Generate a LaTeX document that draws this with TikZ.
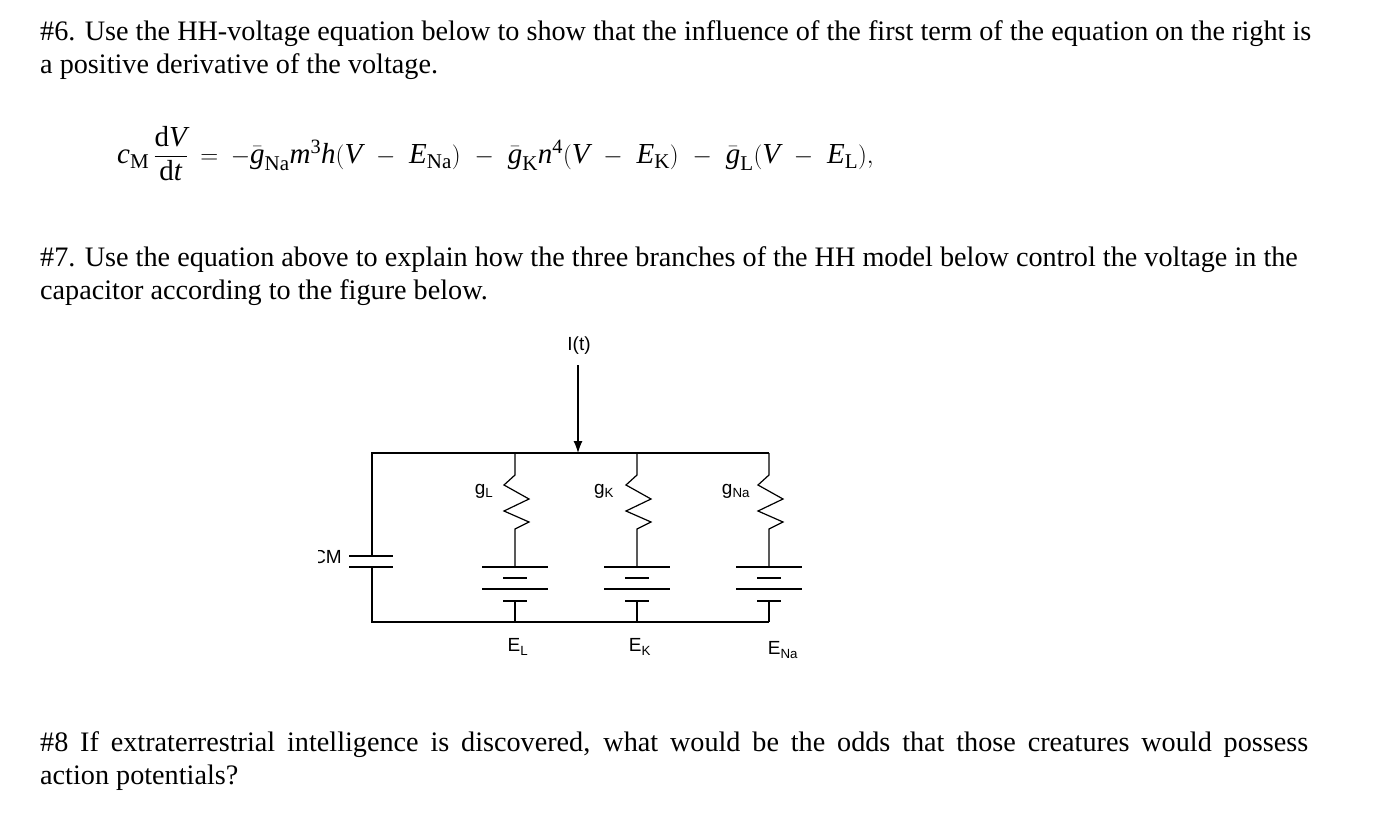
\documentclass[tikz,border=0pt]{standalone}
\usepackage{amsmath}
\usepackage{trimclip}
\usepackage{fontspec}
\setmainfont{Liberation Serif}
\setsansfont{Liberation Sans}
\usetikzlibrary{arrows.meta}
\newcommand{\mi}[1]{\text{\itshape #1}}
\newcommand{\rs}[1]{\text{\fontsize{21}{22}\selectfont\upshape #1}}
\begin{document}
\begin{tikzpicture}[x=1pt,y=-1pt,
  txt/.style={anchor=base west,inner sep=0pt,font=\fontsize{28.2}{32}\selectfont},
  lab/.style={inner sep=0pt,font=\sffamily\fontsize{19}{22}\selectfont},
  wire/.style={line width=1.2pt}]
\useasboundingbox (0,0) rectangle (1374,828);
\node[txt] (t1) at (40,40) {\#6. Use the HH-voltage equation below to show that the influence of the first term of the equation on the right is};
\node[txt] (t2) at (40,73) {a positive derivative of the voltage.};
\node[txt] (eq) at (117,163) {\fontsize{29}{30}\selectfont\medmuskip=10mu plus 2mu\thickmuskip=9mu$\mi{c}_{\rs{M}}\,\dfrac{\text{d}\mi{V}}{\text{d}\mi{t}}=-\bar{\mi{g}}_{\rs{Na}}\mi{m}^{\text{3}}\mi{h}(\mi{V}-\mi{E}_{\rs{Na}})-\bar{\mi{g}}_{\rs{K}}\mi{n}^{\text{4}}(\mi{V}-\mi{E}_{\rs{K}})-\bar{\mi{g}}_{\rs{L}}(\mi{V}-\mi{E}_{\rs{L}}),$};
\node[txt] (t3) at (40,266) {\#7. Use the equation above to explain how the three branches of the HH model below control the voltage in the};
\node[txt] (t4) at (40,299) {capacitor according to the figure below.};
\node[txt] (t5) at (40,751) {\makebox[1268pt][s]{\#8 If extraterrestrial intelligence is discovered, what would be the odds that those creatures would possess}};
\node[txt] (t6) at (40,784) {action potentials?};
% circuit
\draw[wire] (372,556) -- (372,453) -- (769,453);
\draw[wire] (372,567) -- (372,622) -- (769,622);
\draw[wire] (349,556) -- (393,556) (349,567) -- (393,567);
\foreach \x in {515,637,769}{
  \draw[wire] (\x,453) -- (\x,475) -- ++(-11,10) -- ++(25,14) -- ++(-25,12) -- ++(25,11) -- (\x,529) -- (\x,567);
  \draw[wire] (\x-33,567) -- (\x+33,567) (\x-33,589) -- (\x+33,589);
  \draw[wire] (\x-12,578) -- (\x+12,578) (\x-12,601) -- (\x+12,601);
  \draw[wire] (\x,601) -- (\x,622);
}
\coordinate (ar) at (578,365);
\coordinate (arend) at (578,453);
\draw[wire,-{Latex[length=12pt,width=9pt]}] (ar) -- (arend);
\node[lab] (it) at (579,346) {I(t)};
\node[lab] (gl) at (484,491) {g\textsubscript{L}};
\node[lab] (gk) at (604,491) {g\textsubscript{K}};
\node[lab] (gna) at (736,491) {g\textsubscript{Na}};
\node[lab,anchor=east] (cm) at (342,557) {\clipbox{6pt 0pt 0pt 0pt}{C}M};
\node[lab] (el) at (518,647) {E\textsubscript{L}};
\node[lab] (ek) at (640,647) {E\textsubscript{K}};
\node[lab] (ena) at (783,650) {E\textsubscript{Na}};
\end{tikzpicture}
\end{document}
